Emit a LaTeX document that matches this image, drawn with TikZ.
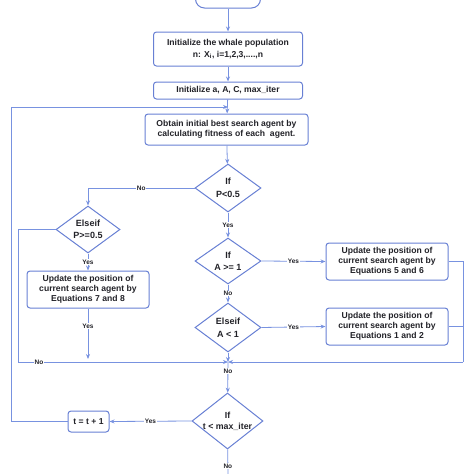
\documentclass[tikz,border=0pt]{standalone}
\usepackage{fontspec}
\setmainfont{Liberation Sans}
\usepackage{xcolor}
\definecolor{woaline}{RGB}{104,128,212}
\definecolor{woaedge}{RGB}{120,146,224}
\definecolor{woatext}{RGB}{34,34,40}
\usetikzlibrary{arrows.meta, positioning, shapes.geometric}

\begin{document}
\begin{tikzpicture}[x=1pt, y=-1pt,
  proc/.style={rectangle, rounded corners=3pt, draw=woaline, line width=1pt,
               fill=white, text=woatext, align=center,
               font=\fontsize{8.6}{10}\selectfont\bfseries, inner sep=1pt},
  dec/.style={diamond, draw=woaline, line width=1pt, fill=white,
              text=woatext, align=center, inner sep=0pt, aspect=1.4,
              font=\fontsize{9}{12.5}\selectfont\bfseries},
  lbl/.style={font=\fontsize{6.5}{7}\selectfont\bfseries, text=woatext,
              fill=white, inner sep=0.6pt},
  arr/.style={-{Stealth[length=5pt, width=4pt]}, line width=0.8pt, draw=woaedge},
  ln/.style={line width=0.8pt, draw=woaedge}
]
\useasboundingbox (0,0) rectangle (474,474);
\clip (0,0) rectangle (474,474);

% Start and initialisation
\node[proc, rounded corners=9pt, minimum width=65pt, minimum height=26pt] (start) at (228,-5) {};
\node[proc, minimum width=149pt, minimum height=34pt,
      font=\fontsize{8.6}{12.5}\selectfont\bfseries] (init) at (228,49) {Initialize the whale population\\n: X\textsubscript{i}, i=1,2,3,....,n};
\node[proc, minimum width=149pt, minimum height=17pt] (param) at (228,90.5) {Initialize a, A, C, max\_iter};
\node[proc, minimum width=163pt, minimum height=31pt] (fit) at (226.5,129.5) {Obtain initial best search agent by\\calculating fitness of each\ \ agent.};

% Decisions
\node[dec, minimum width=66pt, minimum height=48pt] (dp) at (228,188) {If\\P<0.5};
\node[dec, minimum width=64pt, minimum height=47pt] (dpe) at (88,229.5) {Elseif\\P>=0.5};
\node[dec, minimum width=66pt, minimum height=46pt] (da) at (228,261) {If\\A >= 1};
\node[dec, minimum width=66pt, minimum height=49pt] (dae) at (228,327.5) {Elseif\\A < 1};
\node[dec, minimum width=71pt, minimum height=56pt, inner sep=-4pt,
      font=\fontsize{8.8}{11}\selectfont\bfseries] (dt) at (227.5,421) {If\\t < max\_iter};

% Position updates
\node[proc, minimum width=122pt, minimum height=37pt] (upd78) at (88,289.5) {Update the position of\\current search agent by\\Equations 7 and 8};
\node[proc, minimum width=122pt, minimum height=37pt] (upd56) at (387,261.5) {Update the position of\\current search agent by\\Equations 5 and 6};
\node[proc, minimum width=122pt, minimum height=37pt] (upd12) at (387,326.5) {Update the position of\\current search agent by\\Equations 1 and 2};
\node[proc, minimum width=41pt, minimum height=21pt] (tinc) at (88.5,421.5) {t = t + 1};

% Junctions
\coordinate (loop) at (228,107);
\coordinate (merge) at (228,362);
\coordinate (stop) at (228,480);

% Main line
\draw[arr] (start) -- (init);
\draw[arr] (init) -- (param);
\draw[arr] (param) -- (fit);
\draw[arr] (fit) -- (dp);
\draw[arr] (dp) -- node[lbl]{Yes} (da);
\draw[arr] (da) -- node[lbl]{No} (dae);
\draw[arr] (dae) -- (merge);
\draw[arr] (merge) -- node[lbl, pos=0.3]{No} (dt);
\draw[ln] (dt) -- node[lbl, pos=0.55]{No} (stop);

% Exploration branch
\draw[arr] (dp.west) -- node[lbl]{No} (88,188) -- (dpe.north);
\draw[arr] (dpe) -- node[lbl]{Yes} (upd78);
\draw[arr] (upd78.south) -- node[lbl, pos=0.35]{Yes} (88,359);
\draw[arr] (dpe.west) -- (18,229.5) -- (18,362) -- node[lbl, pos=0.1]{No} (merge);

% Exploitation branches
\draw[arr] (da.east) -- node[lbl, pos=0.5]{Yes} (upd56.west);
\draw[arr] (dae.east) -- node[lbl, pos=0.5]{Yes} (upd12.west);
\draw[ln] (upd56.east) -- (463,261.5) -- (463,362);
\draw[ln] (upd12.east) -- (463,326.5);
\draw[arr] (463,362) -- (merge);

% Iteration loop
\draw[arr] (dt.west) -- node[lbl, pos=0.5]{Yes} (tinc.east);
\draw[arr] (tinc.west) -- (11,421.5) -- (11,107) -- (loop);
\end{tikzpicture}
\end{document}
